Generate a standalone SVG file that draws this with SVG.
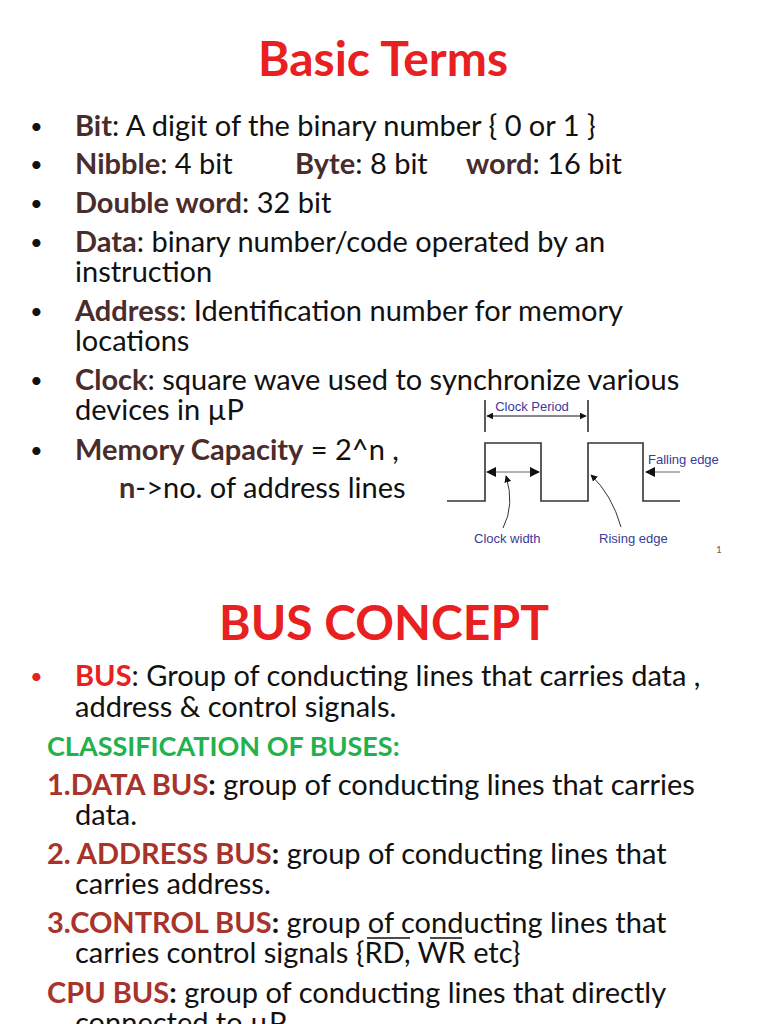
<svg xmlns="http://www.w3.org/2000/svg" width="768" height="1024" viewBox="0 0 768 1024">
<defs>
<style>
text{font-family:Lato,"Liberation Sans",sans-serif;}
.t{font-size:29px;fill:#111;}
.h{font-size:48px;font-weight:bold;fill:#e8201f;text-anchor:middle;}
.b{font-weight:bold;fill:#4a2c2c;}
.r{font-weight:bold;fill:#a8332a;}
.red{fill:#e8201f;}
.g{font-weight:bold;fill:#22b14c;}
.bu{font-size:22px;}
.c{font-family:"Liberation Sans Narrow","Liberation Sans",sans-serif;font-size:13px;fill:#3a3a9a;}
.w{fill:none;stroke:#333;stroke-width:1.6;}
</style>
<marker id="ah" viewBox="0 0 10 10" refX="9" refY="5" markerWidth="7" markerHeight="7" orient="auto-start-reverse"><path d="M0,0L10,5L0,10z" fill="#111"/></marker>
</defs>
<rect width="768" height="1024" fill="#fff"/>
<text class="h" x="383" y="76">Basic Terms</text>
<g class="t">
<text class="bu" x="30" y="134">•</text><text x="75" y="136"><tspan class="b">Bit</tspan>: A digit of the binary number { 0 or 1 }</text>
<text class="bu" x="30" y="172">•</text><text x="75" y="174"><tspan class="b">Nibble</tspan>: 4 bit</text><text x="295" y="174"><tspan class="b">Byte</tspan>: 8 bit</text><text x="466" y="174"><tspan class="b">word</tspan>: 16 bit</text>
<text class="bu" x="30" y="211">•</text><text x="75" y="213"><tspan class="b">Double word</tspan>: 32 bit</text>
<text class="bu" x="30" y="250">•</text><text x="75" y="252"><tspan class="b">Data</tspan>: binary number/code operated by an</text>
<text x="75" y="282">instruction</text>
<text class="bu" x="30" y="319">•</text><text x="75" y="321"><tspan class="b">Address</tspan>: Identification number for memory</text>
<text x="75" y="351">locations</text>
<text class="bu" x="30" y="388">•</text><text x="75" y="390"><tspan class="b">Clock</tspan>: square wave used to synchronize various</text>
<text x="75" y="420">devices in µP</text>
<text class="bu" x="30" y="458">•</text><text x="75" y="460"><tspan class="b">Memory Capacity</tspan> = 2^n  ,</text>
<text x="119" y="498"><tspan class="b">n</tspan>-&gt;no. of address lines</text>
</g>
<g id="clock">
<path class="w" d="M447,501H485V443H541V501H588V443H643V501H680"/>
<path class="w" stroke-width="1" d="M485,400V432M588,400V432"/>
<line x1="487" y1="416" x2="586" y2="416" stroke="#111" stroke-width="1" marker-start="url(#ah)" marker-end="url(#ah)"/>
<line x1="487" y1="472" x2="539" y2="472" stroke="#999" stroke-width="1.5" marker-start="url(#ah)" marker-end="url(#ah)"/>
<line x1="680" y1="472" x2="646" y2="472" stroke="#999" stroke-width="1.5" marker-end="url(#ah)"/>
<path d="M503,528Q515,505 506,476" fill="none" stroke="#333" stroke-width="1" marker-end="url(#ah)"/>
<path d="M621,527Q612,495 591,475" fill="none" stroke="#333" stroke-width="1" marker-end="url(#ah)"/>
<text class="c" x="532" y="411" text-anchor="middle">Clock Period</text>
<text class="c" x="648" y="464">Falling edge</text>
<text class="c" x="474" y="543">Clock width</text>
<text class="c" x="599" y="543">Rising edge</text>
<text x="716" y="553" font-size="10" fill="#666">1</text>
</g>
<text class="h" x="384" y="640" font-size="42">BUS CONCEPT</text>
<g class="t">
<text x="30" y="684" class="red bu">•</text><text x="75" y="686"><tspan class="red" font-weight="bold">BUS</tspan>: Group of conducting lines that carries data ,</text>
<text x="75" y="717">address &amp; control signals.</text>
<text x="47" y="756" class="g" font-size="27">CLASSIFICATION OF BUSES:</text>
<text x="47" y="795"><tspan class="r">1.DATA BUS</tspan><tspan font-weight="bold">:</tspan> group of conducting lines that carries</text>
<text x="75" y="825">data.</text>
<text x="47" y="864"><tspan class="r">2. ADDRESS BUS</tspan><tspan font-weight="bold">:</tspan> group of conducting lines that</text>
<text x="75" y="894">carries address.</text>
<text x="47" y="933"><tspan class="r">3.CONTROL BUS</tspan><tspan font-weight="bold">:</tspan> group of conducting lines that</text>
<text x="75" y="963">carries control signals {RD, WR etc}</text>
<text x="47" y="1003"><tspan class="r">CPU BUS</tspan><tspan font-weight="bold">:</tspan> group of conducting lines that directly</text>
<text x="75" y="1033">connected to µP</text>
</g>
<path d="M367,938H410M430,938H462" stroke="#111" stroke-width="1.5"/>
</svg>
